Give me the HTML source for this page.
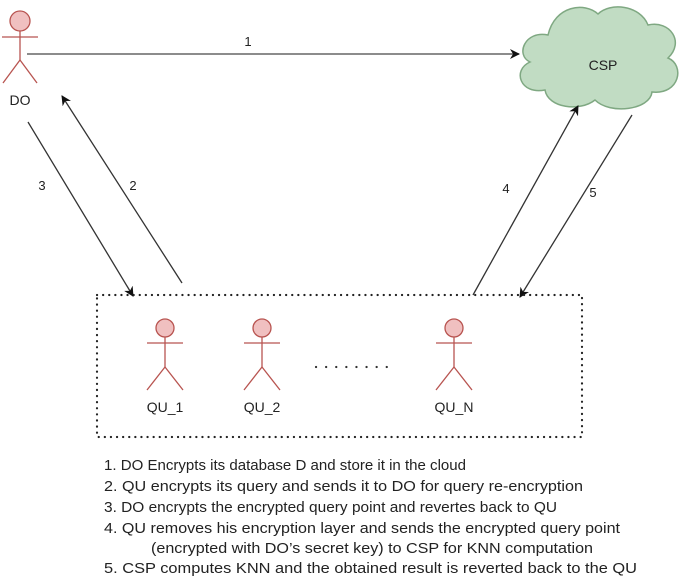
<!DOCTYPE html>
<html><head><style>html,body{margin:0;padding:0;background:#fff}svg{display:block}</style></head>
<body>
<svg width="685" height="577" viewBox="0 0 685 577" xmlns="http://www.w3.org/2000/svg" font-family="Liberation Sans, sans-serif">
<defs>
<marker id="a" markerWidth="10" markerHeight="10" refX="9" refY="5" orient="auto" markerUnits="userSpaceOnUse">
<path d="M0,0 L10,5 L0,10 L3,5 z" fill="#111"/></marker>
</defs>
<path d="M548,35 C525,30 515,55 530,62 C512,70 520,95 545,90 C548,108 580,112 595,100 C610,115 650,110 652,92 C680,95 685,65 668,58 C685,42 670,20 648,25 C640,5 610,2 598,14 C585,2 555,5 548,35 z" fill="#c1dcc3" stroke="#7fa882" stroke-width="1.5"/>
<text x="603" y="70" font-size="14" text-anchor="middle" fill="#222">CSP</text>
<g stroke="#b85450" stroke-width="1.3" fill="none">
<circle cx="20" cy="21" r="10" fill="#f0c0c0"/>
<line x1="20" y1="31" x2="20" y2="60"/><line x1="2" y1="37" x2="38" y2="37"/>
<line x1="20" y1="60" x2="3" y2="83"/><line x1="20" y1="60" x2="37" y2="83"/>
</g>
<text x="20" y="105" font-size="14" text-anchor="middle" fill="#222">DO</text>
<g stroke="#333" stroke-width="1.3" marker-end="url(#a)">
<line x1="27" y1="54" x2="519" y2="54" stroke="#666" stroke-width="1.5"/>
<line x1="28" y1="122" x2="133" y2="296"/>
<line x1="182" y1="283" x2="62" y2="96"/>
<line x1="473" y1="295" x2="578" y2="106"/>
<line x1="632" y1="115" x2="520" y2="297"/>
</g>
<g font-size="13" fill="#222" text-anchor="middle">
<text x="248" y="46">1</text><text x="42" y="190">3</text><text x="133" y="190">2</text>
<text x="506" y="193">4</text><text x="593" y="197">5</text>
</g>
<rect x="97" y="295" width="485" height="142" fill="none" stroke="#222" stroke-width="2.2" stroke-dasharray="0.1,6" stroke-linecap="round"/>
<g stroke="#b85450" stroke-width="1.3" fill="none">
<g transform="translate(165,0)"><circle cx="0" cy="328" r="9" fill="#f0c0c0"/><line x1="0" y1="337" x2="0" y2="367"/><line x1="-18" y1="343" x2="18" y2="343"/><line x1="0" y1="367" x2="-18" y2="390"/><line x1="0" y1="367" x2="18" y2="390"/></g>
<g transform="translate(262,0)"><circle cx="0" cy="328" r="9" fill="#f0c0c0"/><line x1="0" y1="337" x2="0" y2="367"/><line x1="-18" y1="343" x2="18" y2="343"/><line x1="0" y1="367" x2="-18" y2="390"/><line x1="0" y1="367" x2="18" y2="390"/></g>
<g transform="translate(454,0)"><circle cx="0" cy="328" r="9" fill="#f0c0c0"/><line x1="0" y1="337" x2="0" y2="367"/><line x1="-18" y1="343" x2="18" y2="343"/><line x1="0" y1="367" x2="-18" y2="390"/><line x1="0" y1="367" x2="18" y2="390"/></g>
</g>
<line x1="316" y1="367" x2="387" y2="367" stroke="#333" stroke-width="2.2" stroke-dasharray="0.1,10" stroke-linecap="round"/>
<g font-size="14" fill="#222" text-anchor="middle">
<text x="165" y="412">QU_1</text><text x="262" y="412">QU_2</text><text x="454" y="412">QU_N</text>
</g>
<g font-size="14.5" fill="#222">
<text x="104" y="470" textLength="362" lengthAdjust="spacingAndGlyphs">1. DO Encrypts its database D and store it in the cloud</text>
<text x="104" y="491" textLength="479" lengthAdjust="spacingAndGlyphs">2. QU encrypts its query and sends it to DO for query re-encryption</text>
<text x="104" y="512" textLength="453" lengthAdjust="spacingAndGlyphs">3. DO encrypts the encrypted query point and revertes back to QU</text>
<text x="104" y="533" textLength="516" lengthAdjust="spacingAndGlyphs">4. QU removes his encryption layer and sends the encrypted query point</text>
<text x="151" y="553" textLength="442" lengthAdjust="spacingAndGlyphs">(encrypted with DO’s secret key) to CSP for KNN computation</text>
<text x="104" y="573" textLength="533" lengthAdjust="spacingAndGlyphs">5. CSP computes KNN and the obtained result is reverted back to the QU</text>
</g>
</svg>
</body></html>
